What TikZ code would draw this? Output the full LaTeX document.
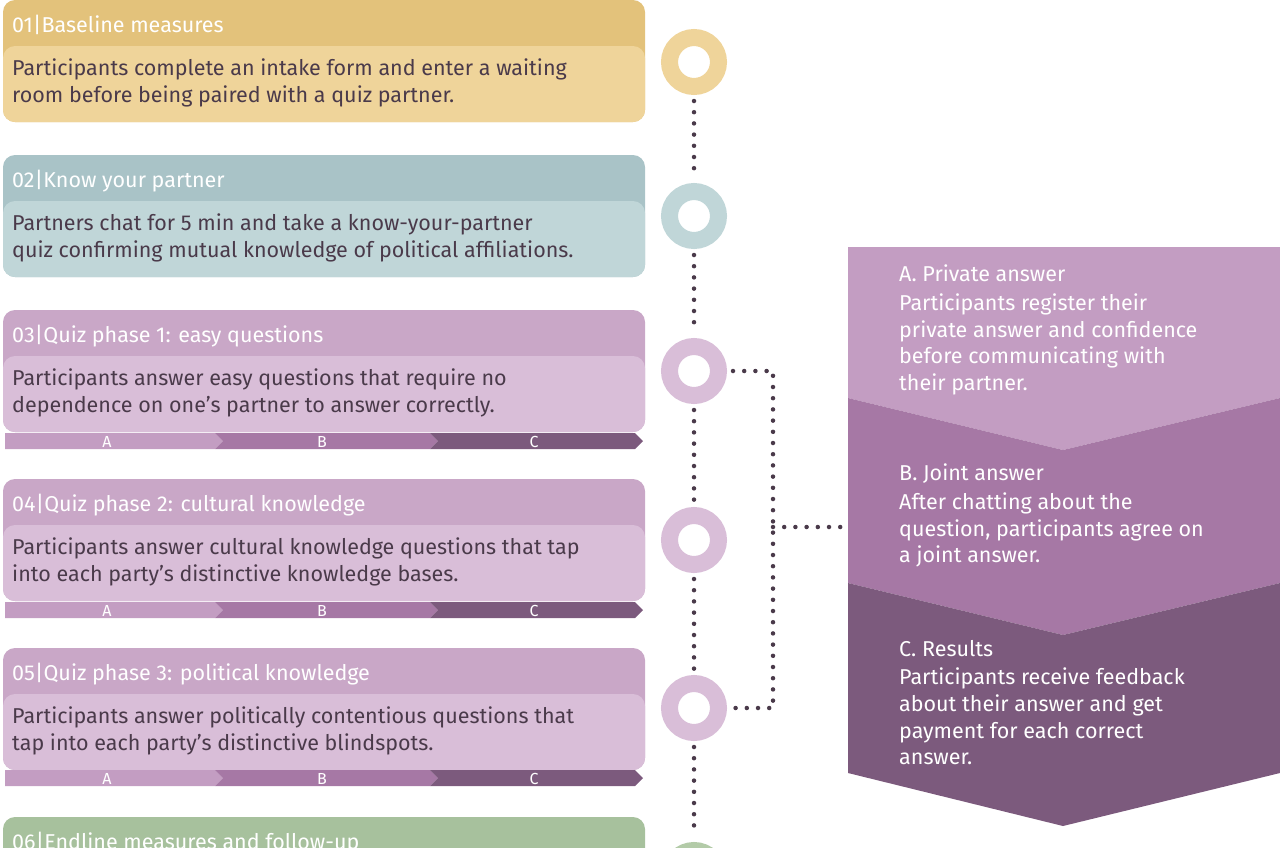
\documentclass[tikz,border=0pt]{standalone}
\usepackage{fontspec}
\setmainfont{Fira Sans}
\begin{document}
\begin{tikzpicture}[x=1pt,y=-1pt,
  txt/.style={anchor=base west,font=\fontsize{21.5}{27}\selectfont,text=dark,inner sep=0pt},
  hd/.style={anchor=base west,font=\fontsize{21.5}{27}\selectfont,text=white,inner sep=0pt},
  rt/.style={anchor=north west,align=left,font=\fontsize{21.5}{26.6}\selectfont,text=white,inner sep=0pt},
  bl/.style={font=\fontsize{16}{16}\selectfont,text=white,inner sep=0pt},
  dots/.style={draw=dark,line width=4.5pt,line cap=round,dash pattern=on 0pt off 11.2pt},
  ring/.style={circle,minimum size=49pt,line width=17pt,inner sep=0pt}]
\definecolor{dark}{HTML}{4A3A4A}
\definecolor{yh}{HTML}{E3C27B}\definecolor{yb}{HTML}{EFD49A}
\definecolor{bh}{HTML}{A9C3C7}\definecolor{bb}{HTML}{C0D6D8}
\definecolor{ph}{HTML}{C9A7C7}\definecolor{pb}{HTML}{D9BED8}
\definecolor{gh}{HTML}{A7C19D}\definecolor{gr}{HTML}{B3CBA8}
\definecolor{cA}{HTML}{C39DC2}\definecolor{cB}{HTML}{A678A5}\definecolor{cC}{HTML}{7C5A7D}
\useasboundingbox (0,0) rectangle (1280,847);
% boxes
\def\stepbox#1#2#3#4#5#6{%
 \fill[#2,rounded corners=12pt] (3,#1) rectangle (645,#1+122);
 \fill[#3,rounded corners=12pt] (3,#1+46) rectangle (645,#1+122);
 \node[hd] at (12,#1+32) {#4};
 \node[txt] at (12,#1+75) {#5};
 \node[txt] at (12,#1+102) {#6};}
\stepbox{0}{yh}{yb}{01|Baseline measures}{Participants complete an intake form and enter a waiting}{room before being paired with a quiz partner.}
\stepbox{155}{bh}{bb}{02|Know your partner}{Partners chat for 5 min and take a know-your-partner}{quiz confirming mutual knowledge of political affiliations.}
\stepbox{310}{ph}{pb}{03|Quiz phase 1: easy questions}{Participants answer easy questions that require no}{dependence on one’s partner to answer correctly.}
\stepbox{479}{ph}{pb}{04|Quiz phase 2: cultural knowledge}{Participants answer cultural knowledge questions that tap}{into each party’s distinctive knowledge bases.}
\stepbox{648}{ph}{pb}{05|Quiz phase 3: political knowledge}{Participants answer politically contentious questions that}{tap into each party’s distinctive blindspots.}
\fill[gh,rounded corners=12pt] (3,817) rectangle (645,900);
\node[hd] at (12,849) {06|Endline measures and follow-up};
% ABC bars
\def\abcbar#1{%
 \fill[cA] (5,#1) -- (215,#1) -- (223,#1+8) -- (215,#1+16) -- (5,#1+16) -- cycle;
 \fill[cB] (215,#1) -- (430,#1) -- (438,#1+8) -- (430,#1+16) -- (215,#1+16) -- (223,#1+8) -- cycle;
 \fill[cC] (430,#1) -- (635,#1) -- (643,#1+8) -- (635,#1+16) -- (430,#1+16) -- (438,#1+8) -- cycle;
 \node[bl] at (107,#1+9) {A};\node[bl] at (322,#1+9) {B};\node[bl] at (534,#1+9) {C};}
\abcbar{433}\abcbar{602}\abcbar{770}
% circles
\node[ring,draw=yb] (c1) at (694,62) {};
\node[ring,draw=bb] (c2) at (694,216) {};
\node[ring,draw=pb] (c3) at (694,371) {};
\node[ring,draw=pb] (c4) at (694,540) {};
\node[ring,draw=pb] (c5) at (694,708) {};
\node[ring,draw=gr] (c6) at (694,875) {};
\foreach \a/\b in {c1/c2,c2/c3,c3/c4,c4/c5,c5/c6}
  \draw[dots] ([yshift=-6pt]\a.south) -- ([yshift=6pt]\b.north);
\coordinate (k1) at (773,371);\coordinate (k2) at (773,708);
\coordinate (km) at (773,527);\coordinate (ke) at (845,527);
\draw[dots] ([xshift=6pt]c3.east) -- (k1) -- (k2) -- ([xshift=6pt]c5.east);
\draw[dots] (km) -- (ke);
% right chevrons
\fill[cA] (848,247) -- (1280,247) -- (1280,398) -- (1063,450) -- (848,398) -- cycle;
\fill[cB] (848,398) -- (1063,450) -- (1280,398) -- (1280,583) -- (1063,635) -- (848,583) -- cycle;
\fill[cC] (848,583) -- (1063,635) -- (1280,583) -- (1280,773) -- (1063,826) -- (848,773) -- cycle;
\node[rt] (ta) at (899,265) {A. Private answer\\[2pt]Participants register their\\private answer and confidence\\before communicating with\\their partner.};
\node[rt] (tb) at (899,464) {B. Joint answer\\[2pt]After chatting about the\\question, participants agree on\\a joint answer.};
\node[rt] (tc) at (899,640) {C. Results\\[2pt]Participants receive feedback\\about their answer and get\\payment for each correct\\answer.};
\end{tikzpicture}
\end{document}
